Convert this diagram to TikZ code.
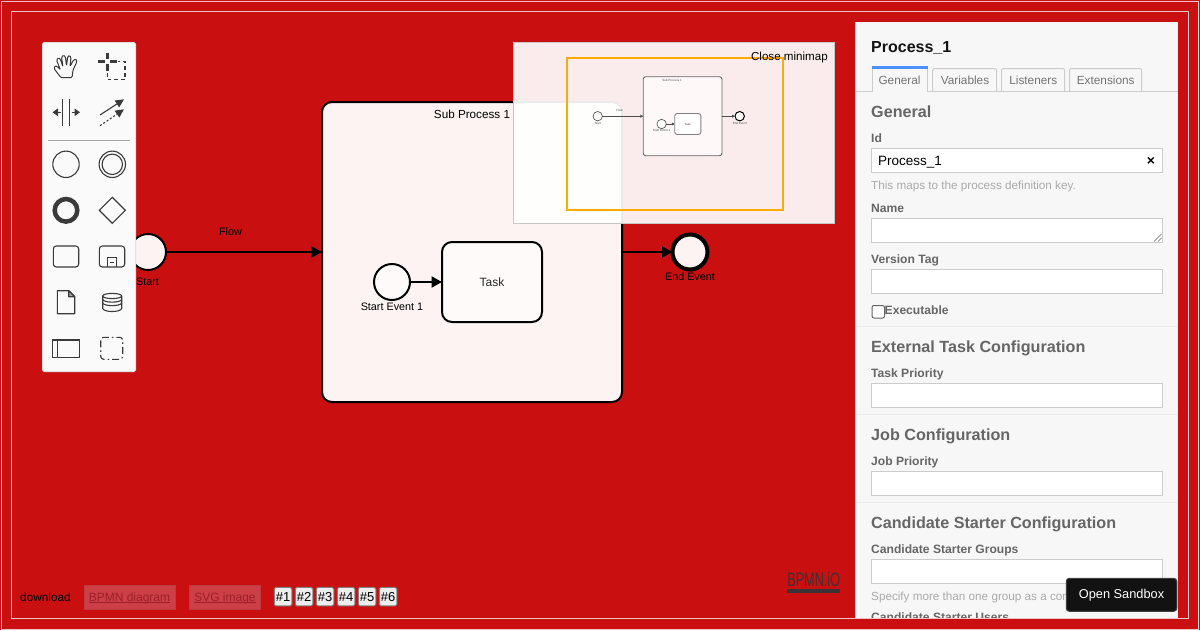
\documentclass[tikz,border=0pt]{standalone}
\usepackage{fontspec}
\setmainfont{Liberation Sans}
\usetikzlibrary{arrows.meta,shapes.geometric}
\definecolor{bgred}{HTML}{C90F0F}
\definecolor{shapefill}{HTML}{FCF3F2}
\definecolor{framecol}{HTML}{EDC4C4}
\definecolor{paneltxt}{HTML}{666666}
\definecolor{hinttxt}{HTML}{AAAAAA}
\definecolor{iconcol}{HTML}{3A3A3A}
\definecolor{linkfill}{HTML}{CC3F46}
\definecolor{linkline}{HTML}{BE3A42}
\definecolor{linktxt}{HTML}{9E1F29}
\definecolor{logocol}{HTML}{3B3235}
\newcommand{\pxf}[1]{\fontsize{#1}{#1}\selectfont}
\newcommand{\ulnk}[1]{\setbox0=\hbox{#1}\rlap{\vrule width\wd0 height -1.2pt depth 2.2pt}\box0}
\tikzset{
  evt/.style={circle,draw=black,fill=shapefill,line width=2pt,minimum size=36pt,inner sep=0pt,outer sep=0pt},
  flowline/.style={line width=2pt,draw=black,-{Triangle[length=10.5pt,width=11pt]}},
  lbl/.style={anchor=base,inner sep=0pt,text=black,font=\pxf{10.8}},
  minievt/.style={circle,draw=black!65,fill=white,line width=.7pt,minimum size=9.4pt,inner sep=0pt,outer sep=0pt},
  minilbl/.style={anchor=base,inner sep=0pt,text=black!70,font=\pxf{3}},
  miniflow/.style={line width=.6pt,draw=black!70,-{Triangle[length=2.8pt,width=2.8pt]}},
  ptext/.style={anchor=base west,inner sep=0pt,text=paneltxt},
  plabel/.style={ptext,font=\bfseries\pxf{12.1}},
  phead/.style={ptext,font=\bfseries\pxf{16.15}},
  phint/.style={ptext,text=hinttxt,font=\pxf{11.7}},
  inbox/.style={draw=black!20,fill=white,line width=1pt,minimum width=291pt,inner sep=0pt,anchor=north west,outer sep=0pt},
  ptab/.style={draw=black!20,line width=1pt,rounded corners=2pt},
  tabtxt/.style={anchor=base,inner sep=0pt,text=black!55,font=\pxf{11.8}},
  icon/.style={draw=iconcol,line width=1.1pt},
  numbtn/.style={draw=black!50,fill=black!7,rounded corners=1.5pt,line width=1pt,minimum width=17.5pt,minimum height=18.5pt,inner sep=0pt,text=black,font=\pxf{13}},
  linkbtn/.style={draw=linkline,fill=linkfill,line width=1pt,minimum height=24pt,inner sep=0pt,text=linktxt,font=\pxf{12},text height=11pt,text depth=3pt},
}
\begin{document}
\begin{tikzpicture}[x=1pt,y=-1pt]
\useasboundingbox (0,0) rectangle (1200,630);
\fill[bgred] (0,0) rectangle (1200,630);
\draw[framecol,line width=1pt] (1.5,629.5) -- (1.5,1.5) -- (1198.5,1.5);
\draw[framecol,line width=1pt] (1.5,629.5) -- (1198.5,629.5);
\draw[black!15,line width=1pt] (1198.5,1.5) -- (1198.5,629.5);
\draw[framecol,line width=1pt] (1188.5,11.5) -- (11.5,11.5) -- (11.5,618.5) -- (1188.5,618.5);
\draw[black!18,line width=1pt] (1188.5,11.5) -- (1188.5,618.5);

% ---- diagram
\node[evt] (start) at (148,252) {};
\node[lbl] (startl) at (147.5,285) {Start};
\node[lbl] (flowl) at (230.5,235) {Flow};
\node[draw=black,fill=shapefill,line width=2pt,rounded corners=10pt,minimum width=300pt,minimum height=300pt,inner sep=0pt,outer sep=0pt] (sub) at (472,252) {};
\node[lbl,font=\pxf{11.7}] (subl) at (472,118) {Sub Process 1};
\node[evt,fill=shapefill!40] (start1) at (392,282) {};
\node[lbl] (start1l) at (392,310) {Start Event 1};
\node[draw=black,fill=shapefill!40,line width=2pt,rounded corners=10pt,minimum width=100pt,minimum height=80pt,inner sep=0pt,outer sep=0pt,font=\pxf{12},text=black!85] (task) at (492,282) {Task};
\node[evt,line width=4pt,minimum size=35pt] (end) at (690,252) {};
\node[lbl] (endl) at (690,280) {End Event};
\draw[flowline] (start.east) -- (sub.west);
\draw[flowline] (start1.east) -- (task.west);
\draw[flowline] (sub.east) -- (end.west);

% ---- toolbar
\fill[black!2,draw=black!12,line width=1pt,rounded corners=1.5pt] (42.5,42.5) rectangle (135.5,371.5);
% hand
\draw[icon,line width=1pt,rounded corners=1.2pt,line join=round] (61,77.7) -- (54,68.5) -- (54.6,66) -- (57.3,66.3) -- (60.5,70) -- (56.5,60) -- (58.5,57.5) -- (60.5,59.5) -- (63,67) -- (61.5,57) -- (63.8,55) -- (65.5,57) -- (66.5,66) -- (67.7,56.5) -- (69.8,55.3) -- (71,57.5) -- (70,66.5) -- (73.5,60) -- (76.2,59) -- (77,61.5) -- (73,70) -- (72,77.7) -- cycle;
% lasso
\draw[icon,line width=2.5pt] (98.3,61.7) -- (105,61.7) (110,61.7) -- (116.7,61.7) (107.4,52.7) -- (107.4,59.3) (107.4,64.3) -- (107.4,70.7);
\draw[icon,dash pattern=on 3.5pt off 3.2pt] (107.3,73) -- (107.3,79.3) -- (125,79.3) -- (125,61.7) -- (118,61.7);
% space
\draw[icon] (62.3,99) -- (62.3,125.7) (69.3,99) -- (69.3,125.7);
\draw[icon,-{Triangle[length=5.5pt,width=7.5pt]}] (60.7,112.3) -- (52.5,112.3);
\draw[icon,-{Triangle[length=5.5pt,width=7.5pt]}] (71.5,112.3) -- (80,112.3);
% connect
\draw[icon,-{Triangle[length=8.5pt,width=8pt]}] (100,115) -- (124,99.3);
\draw[icon,dash pattern=on 2pt off 2pt,-{Triangle[length=8.5pt,width=8pt]}] (100,125.7) -- (124,109.3);
\draw[black!35,line width=1pt] (48,140.3) -- (130,140.3);
% events
\draw[icon] (66,164.3) circle (13.2);
\draw[icon] (112.3,164.3) circle (13.2) (112.3,164.3) circle (10.2);
\draw[icon,line width=4.5pt] (66,210.3) circle (11.3);
\node[diamond,icon,minimum size=26.5pt,inner sep=0pt] (gw) at (112.3,210.3) {};
% task / subprocess
\draw[icon,rounded corners=3pt] (53.3,246) rectangle (78.7,267);
\draw[icon,rounded corners=3pt] (99.3,246) rectangle (124.7,267);
\draw[icon,line width=1pt] (107.5,266.7) -- (107.5,257.5) -- (116.5,257.5) -- (116.5,266.7) (109.7,262.3) -- (114.3,262.3);
% data object
\draw[icon,line join=round] (57.3,290.7) -- (68.7,290.7) -- (74.7,296.7) -- (74.7,313.7) -- (57.3,313.7) -- cycle;
\draw[icon,fill=iconcol!45,line join=round] (68.7,290.7) -- (74.7,296.7) -- (68.7,296.7) -- cycle;
% data store
\draw[icon] (112.2,296) ellipse [x radius=9.5,y radius=2.6];
\draw[icon] (102.7,296) -- (102.7,308.5) .. controls (104,312.5) and (120.4,312.5) .. (121.7,308.5) -- (121.7,296);
\draw[icon] (102.7,299.5) .. controls (104,303) and (120.4,303) .. (121.7,299.5);
\draw[icon] (102.7,303) .. controls (104,306.5) and (120.4,306.5) .. (121.7,303);
% pool / group
\draw[icon] (52.7,340) rectangle (79.3,357.7) (57.5,340) -- (57.5,357.7);
\draw[icon,rounded corners=3pt,dash pattern=on 7pt off 3pt on 1.5pt off 3pt] (100.7,337.3) rectangle (122.7,359.3);

% ---- minimap
\fill[white,fill opacity=.92] (513.5,42.5) rectangle (834.5,223.5);
\draw[black!22,line width=1pt] (513.5,42.5) rectangle (834.5,223.5);
\node[draw=black!60,fill=white!50!shapefill,line width=.9pt,rounded corners=2.5pt,minimum width=78.7pt,minimum height=79pt,inner sep=0pt,outer sep=0pt] (msub) at (682.6,116.2) {};
\node[minilbl] (msubl) at (672,81) {Sub Process 1};
\node[minievt] (mstart) at (597.7,116.2) {};
\node[minilbl] (mstartl) at (597.7,124) {Start};
\node[minilbl] (mflowl) at (619.5,111) {Flow};
\node[minievt] (mstart1) at (661.6,124) {};
\node[minilbl] (mstart1l) at (661.6,131.5) {Start Event 1};
\node[draw=black!50,fill=white,line width=.9pt,rounded corners=2.5pt,minimum width=26.2pt,minimum height=21pt,inner sep=0pt,outer sep=0pt] (mtask) at (687.8,124) {};
\node[minilbl] (mtaskl) at (687.8,125) {Task};
\node[minievt,draw=black,line width=1pt] (mend) at (739.7,116.2) {};
\node[minilbl] (mendl) at (739.7,124) {End Event};
\draw[miniflow] (mstart.east) -- (msub.west);
\draw[miniflow] (mstart1.east) -- (mtask.west);
\draw[miniflow] (msub.east) -- (mend.west);
\draw[color={rgb,255:red,255;green,170;blue,0},line width=2pt] (567,58) rectangle (783,210);
\node[anchor=base east,inner sep=0pt,text=black,font=\pxf{11.6}] (close) at (828,60) {Close minimap};

% ---- properties panel
\fill[black!3] (855.5,22) rectangle (1178,618);
\draw[black!18,line width=1pt] (855.5,22) -- (855.5,618);
\node[anchor=base west,inner sep=0pt,text=black!92,font=\bfseries\pxf{16}] (title) at (871,52) {Process\_1};
\draw[black!20,line width=1pt] (855.5,91.5) -- (1178,91.5);
\fill[black!3] (872,68) rectangle (927,92.2);
\draw[black!20,line width=1pt] (872,91.5) -- (872,68) (927,68) -- (927,91.5);
\fill[color={rgb,255:red,77;green,144;blue,255}] (871.5,66) rectangle (927.5,69);
\draw[ptab] (932.7,91.5) -- (932.7,68.5) -- (996.7,68.5) -- (996.7,91.5);
\draw[ptab] (1001.5,91.5) -- (1001.5,68.5) -- (1064.7,68.5) -- (1064.7,91.5);
\draw[ptab] (1069.5,91.5) -- (1069.5,68.5) -- (1141.7,68.5) -- (1141.7,91.5);
\node[tabtxt] (t1) at (899.5,84) {General};
\node[tabtxt] (t2) at (965,84) {Variables};
\node[tabtxt] (t3) at (1033.3,84) {Listeners};
\node[tabtxt] (t4) at (1105.7,84) {Extensions};
\node[phead] (h1) at (871,117) {General};
\node[plabel] (l1) at (871,142) {Id};
\node[inbox,minimum height=24.5pt] (i1) at (871.5,148.3) {};
\node[anchor=base west,inner sep=0pt,text=black,font=\pxf{13.5}] (v1) at (878,165) {Process\_1};
\node[anchor=base,inner sep=0pt,text=black,font=\bfseries\pxf{14}] (x1) at (1151,165) {×};
\node[phint] (hint1) at (871,189) {This maps to the process definition key.};
\node[plabel] (l2) at (871,212) {Name};
\node[inbox,minimum height=24.5pt] (i2) at (871.5,218.3) {};
\draw[black!60,line width=.6pt] (1154,241.5) -- (1161.5,234) (1158,241.5) -- (1161.5,238);
\node[plabel] (l3) at (871,263) {Version Tag};
\node[inbox,minimum height=24.5pt] (i3) at (871.5,269.3) {};
\node[draw=black!60,fill=white,line width=1pt,rounded corners=2pt,minimum size=12.5pt,inner sep=0pt,anchor=north west] (cb) at (871.5,305) {};
\node[plabel] (l4) at (884.5,314) {Executable};
\draw[black!7,line width=1pt] (856,326.5) -- (1178,326.5);
\node[phead] (h2) at (871,352) {External Task Configuration};
\node[plabel] (l5) at (871,377) {Task Priority};
\node[inbox,minimum height=24.5pt] (i4) at (871.5,383.3) {};
\draw[black!7,line width=1pt] (856,414.5) -- (1178,414.5);
\node[phead] (h3) at (871,440) {Job Configuration};
\node[plabel] (l6) at (871,465) {Job Priority};
\node[inbox,minimum height=24.5pt] (i5) at (871.5,471.3) {};
\draw[black!7,line width=1pt] (856,502.5) -- (1178,502.5);
\node[phead] (h4) at (871,528) {Candidate Starter Configuration};
\node[plabel] (l7) at (871,553) {Candidate Starter Groups};
\node[inbox,minimum height=24.5pt] (i6) at (871.5,559.3) {};
\node[phint] (hint2) at (871,600) {Specify more than one group as a com};
\begin{scope}
\clip (856,605) rectangle (1178,618);
\node[plabel] (l8) at (871,621.5) {Candidate Starter Users};
\end{scope}
\draw[framecol,line width=1pt] (855,618.5) -- (1178,618.5);
\node[draw=black!75,fill=black!93,rounded corners=3pt,line width=1pt,minimum width=110.5pt,minimum height=33pt,inner sep=0pt,text=white,font=\pxf{12.8}] (sandbox) at (1121.5,594.8) {Open Sandbox};

% ---- logo
\node[anchor=base,inner sep=0pt,text=logocol,font=\pxf{19.5},xscale=.65] (logo) at (813.7,586.7) {BPMN.iO};
\fill[logocol] (787.3,589.3) rectangle (840,593);

% ---- bottom links
\node[anchor=base west,inner sep=0pt,text=black,font=\pxf{11.8}] (dl) at (20,601) {download};
\node[linkbtn,minimum width=91pt] (b1) at (129.5,597) {\ulnk{BPMN diagram}};
\node[linkbtn,minimum width=70.5pt] (b2) at (225,597) {\ulnk{SVG image}};
\node[numbtn] (n1) at (283,596.7) {\#1};
\node[numbtn] (n2) at (304,596.7) {\#2};
\node[numbtn] (n3) at (325,596.7) {\#3};
\node[numbtn] (n4) at (346,596.7) {\#4};
\node[numbtn] (n5) at (367,596.7) {\#5};
\node[numbtn] (n6) at (388,596.7) {\#6};
\end{tikzpicture}
\end{document}
